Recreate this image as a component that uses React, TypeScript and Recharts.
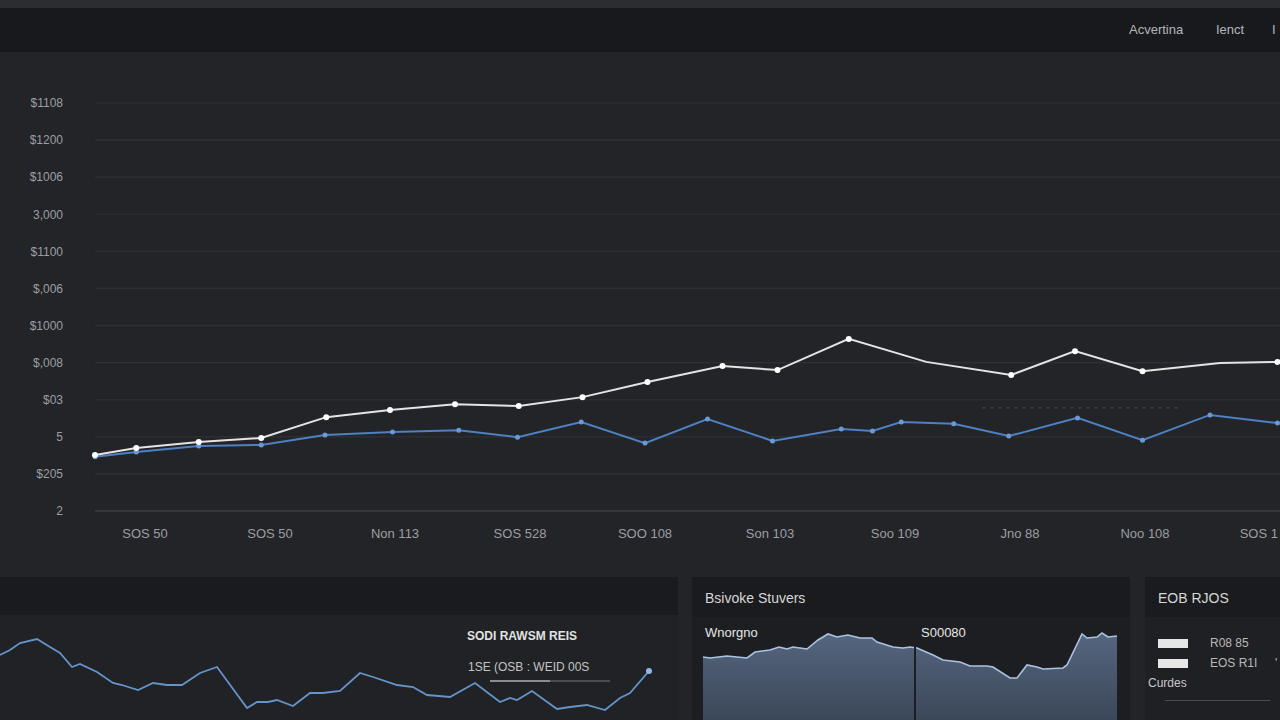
import React from "react";
import {
  Area,
  AreaChart,
  CartesianGrid,
  Line,
  LineChart,
  ReferenceLine,
  XAxis,
  YAxis,
} from "recharts";

// main chart: x is a day index, y in dollars
const whiteX = [0, 3.3, 8.3, 13.3, 18.5, 23.6, 28.8, 33.9, 39, 44.2, 50.2, 54.6, 60.3, 66.5, 73.3, 78.4, 83.8, 90, 94.6];
const whiteY = [1510, 1700, 1860, 1970, 2530, 2720, 2880, 2830, 3070, 3480, 3910, 3800, 4640, 4020, 3670, 4310, 3770, 3990, 4020];
// points on the white line that carry no marker in the picture
const whiteNoDot = [13, 17];

const blueX = [0, 3.3, 8.3, 13.3, 18.4, 23.8, 29.1, 33.8, 38.9, 44, 49, 54.2, 59.7, 62.2, 64.5, 68.7, 73.1, 78.6, 83.8, 89.2, 94.6];
const blueY = [1460, 1590, 1750, 1780, 2050, 2130, 2180, 1990, 2400, 1830, 2480, 1890, 2210, 2160, 2400, 2350, 2020, 2510, 1910, 2590, 2370];

const yTickValues = [0, 1000, 2000, 3000, 4000, 5000, 6000, 7000, 8000, 9000, 10000, 11000];
const yTickLabels = ["2", "$205", "5", "$03", "$,008", "$1000", "$,006", "$1100", "3,000", "$1006", "$1200", "$1108"];

const xTickValues = [4, 14, 24, 34, 44, 54, 64, 74, 84, 94];
const xTickLabels = ["SOS 50", "SOS 50", "Non 113", "SOS 528", "SOO 108", "Son 103", "Soo 109", "Jno 88", "Noo 108", "SOS 1"];

// bottom-left sparkline
const sparkX = [0, 1, 2, 3.7, 5, 6, 7.2, 8, 9.7, 11.3, 12.2, 13.8, 15.3, 16.7, 18.2, 20, 21.7, 24.7, 25.7, 26.8, 27.7, 29.3, 31, 32.3, 34, 36, 37.3, 39.7, 41.3, 42.7, 45, 47.5, 50, 51, 51.7, 53.2, 55.7, 57, 58.7, 60.5, 62, 63, 64.9];
const sparkY = [65, 70, 77, 81, 73, 67, 53, 56, 48, 37, 35, 30, 37, 35, 35, 47, 53, 12, 18, 18, 20, 14, 27, 27, 29, 47, 43, 35, 33, 25, 23, 37, 18, 22, 20, 29, 11, 13, 15, 10, 22, 27, 49];

// bottom-middle area
const areaX = [1.3, 2, 3.7, 5.7, 6.5, 8, 8.9, 9.7, 10.3, 11.7, 12.8, 13.8, 14.7, 15.8, 17, 18.2, 18.7, 20.3, 21.3, 22, 22.7, 24.3, 25.3, 27, 28, 29.7, 30.3, 32, 32.7, 33.7, 34.7, 35.3, 37.3, 37.7, 39.2, 39.7, 40.7, 41.2, 41.8, 42.7];
const areaY = [63, 62, 64, 62, 68, 70, 73, 71, 73, 71, 80, 86, 83, 85, 82, 82, 78, 73, 72, 73, 72, 65, 60, 58, 54, 54, 53, 42, 42, 55, 53, 51, 52, 55, 86, 82, 83, 87, 83, 84];

const whiteData = whiteX.map((x, i) => ({ x, y: whiteY[i] }));
const blueData = blueX.map((x, i) => ({ x, y: blueY[i] }));
const sparkData = sparkX.map((x, i) => ({ x, y: sparkY[i] }));
const areaData = areaX.map((x, i) => ({ x, y: areaY[i] }));

const font = "'Liberation Sans', Arial, sans-serif";

const abs = (left: number, top: number, width: number, height: number, bg?: string): React.CSSProperties => ({
  position: "absolute",
  left,
  top,
  width,
  height,
  background: bg,
});

const Txt = ({ x, y, children, color = "#b4b6ba", size = 13, bold = false }: any) => (
  <div
    style={{
      position: "absolute",
      left: x,
      top: y - size * 0.6,
      color,
      fontSize: size,
      fontWeight: bold ? 700 : 400,
      fontFamily: font,
      whiteSpace: "nowrap",
      lineHeight: 1.2,
    }}
  >
    {children}
  </div>
);

// last x label sits at the right edge, so it is anchored to its end
const XTick = (props: any) => {
  const { x, y, payload, index } = props;
  const last = index === xTickValues.length - 1;
  return (
    <text
      x={last ? 1278 : x}
      y={y}
      dy="0.71em"
      textAnchor={last ? "end" : "middle"}
      fill="#9c9ea2"
      fontSize={13}
    >
      {xTickLabels[xTickValues.indexOf(payload.value)]}
    </text>
  );
};

function App() {
  return (
    <div style={{ ...abs(0, 0, 1280, 720, "#222428"), overflow: "hidden", fontFamily: font }}>
      {/* top bars */}
      <div style={abs(0, 0, 1280, 8, "#2b2d31")} />
      <div style={abs(0, 8, 1280, 44, "#18191c")} />
      <Txt x={1129} y={30}>Acvertina</Txt>
      <Txt x={1216} y={30}>Ienct</Txt>
      <Txt x={1272} y={30}>I</Txt>

      {/* main chart */}
      <div style={abs(0, 0, 1320, 560)}>
        <LineChart width={1320} height={560} margin={{ top: 103, right: 25, left: 20, bottom: 19 }}>
          <CartesianGrid vertical={false} stroke="#2e3035" strokeWidth={1.2} />
          <XAxis
            dataKey="x"
            type="number"
            domain={[0, 96]}
            ticks={xTickValues}
            tick={<XTick />}
            tickLine={false}
            axisLine={{ stroke: "#3a3c41", strokeWidth: 1.5 }}
            tickMargin={12}
            height={30}
          />
          <YAxis
            type="number"
            domain={[0, 11000]}
            ticks={yTickValues}
            tickFormatter={(v: number) => yTickLabels[yTickValues.indexOf(v)]}
            tick={{ fill: "#9c9ea2", fontSize: 12 }}
            tickLine={false}
            axisLine={false}
            tickMargin={26}
            width={75}
          />
          <ReferenceLine
            segment={[{ x: 71, y: 2780 }, { x: 87, y: 2780 }]}
            stroke="#3f5675"
            strokeDasharray="3 5"
          />
          <Line
            data={blueData}
            dataKey="y"
            type="linear"
            stroke="#4e80c2"
            strokeWidth={2}
            dot={{ r: 2.5, fill: "#6a9ad6", stroke: "none" }}
            isAnimationActive={false}
          />
          <Line
            data={whiteData}
            dataKey="y"
            type="linear"
            stroke="#e4e4e4"
            strokeWidth={2}
            dot={(p: any) =>
              whiteNoDot.includes(p.index) ? (
                <g key={p.index} />
              ) : (
                <circle key={p.index} cx={p.cx} cy={p.cy} r={3} fill="#ffffff" />
              )
            }
            isAnimationActive={false}
          />
        </LineChart>
      </div>

      {/* bottom-left panel */}
      <div style={abs(0, 577, 678, 38, "#1a1b1e")} />
      <div style={abs(0, 615, 678, 105, "#202226")} />
      <div style={abs(0, 630, 680, 90)}>
        <LineChart width={680} height={90} margin={{ top: 0, right: 0, left: 0, bottom: 0 }}>
          <XAxis dataKey="x" type="number" domain={[0, 68]} hide />
          <YAxis type="number" domain={[0, 90]} hide />
          <Line
            data={sparkData}
            dataKey="y"
            type="linear"
            stroke="#6594ca"
            strokeWidth={1.8}
            dot={(p: any) =>
              p.index === sparkData.length - 1 ? (
                <circle key="end" cx={p.cx} cy={p.cy} r={3} fill="#8fb6e6" />
              ) : (
                <g key={p.index} />
              )
            }
            isAnimationActive={false}
          />
        </LineChart>
      </div>
      <Txt x={467} y={636} color="#e2e2e2" size={12} bold>SODI RAWSM REIS</Txt>
      <Txt x={468} y={667} color="#c4c4c4" size={12}>1SE  (OSB : WEID 00S</Txt>
      <div style={abs(490, 680, 120, 2, "#4a4c50")} />
      <div style={abs(490, 680, 60, 2, "#8a8c90")} />

      {/* bottom-middle panel */}
      <div style={abs(692, 577, 438, 40, "#1a1b1e")} />
      <div style={abs(692, 617, 438, 103, "#1d1e22")} />
      <Txt x={705} y={598} color="#d6d6d6" size={14}>Bsivoke Stuvers</Txt>
      <div style={abs(690, 630, 440, 90)}>
        <AreaChart width={440} height={90} margin={{ top: 0, right: 0, left: 0, bottom: 0 }} data={areaData}>
          <defs>
            <linearGradient id="areaFill" x1="0" y1="0" x2="0" y2="1">
              <stop offset="0%" stopColor="#56667f" />
              <stop offset="100%" stopColor="#3b4759" />
            </linearGradient>
          </defs>
          <XAxis dataKey="x" type="number" domain={[0, 44]} hide />
          <YAxis type="number" domain={[0, 90]} hide />
          <Area
            dataKey="y"
            type="linear"
            stroke="#a9c4e2"
            strokeWidth={1.6}
            fill="url(#areaFill)"
            fillOpacity={1}
            isAnimationActive={false}
          />
          <ReferenceLine x={22.5} stroke="#1c1e22" strokeWidth={2} />
        </AreaChart>
      </div>
      <Txt x={705} y={633} color="#e6e6e6" size={13}>Wnorgno</Txt>
      <Txt x={921} y={633} color="#e6e6e6" size={13}>S00080</Txt>

      {/* bottom-right panel */}
      <div style={abs(1145, 577, 135, 40, "#1a1b1e")} />
      <div style={abs(1145, 617, 135, 103, "#1f2024")} />
      <Txt x={1158} y={598} color="#d6d6d6" size={14}>EOB RJOS</Txt>
      <div style={abs(1158, 639, 30, 9, "#e6e6e6")} />
      <div style={abs(1158, 659, 30, 9, "#e6e6e6")} />
      <Txt x={1210} y={643} color="#b8b8b8" size={12}>R08 85</Txt>
      <Txt x={1210} y={663} color="#b8b8b8" size={12}>EOS R1I</Txt>
      <Txt x={1275} y={663} color="#b8b8b8" size={12}>'</Txt>
      <Txt x={1148} y={683} color="#c8c8c8" size={12}>Curdes</Txt>
      <div style={abs(1165, 700, 105, 1, "#4a4c50")} />
    </div>
  );
}

export default App;
